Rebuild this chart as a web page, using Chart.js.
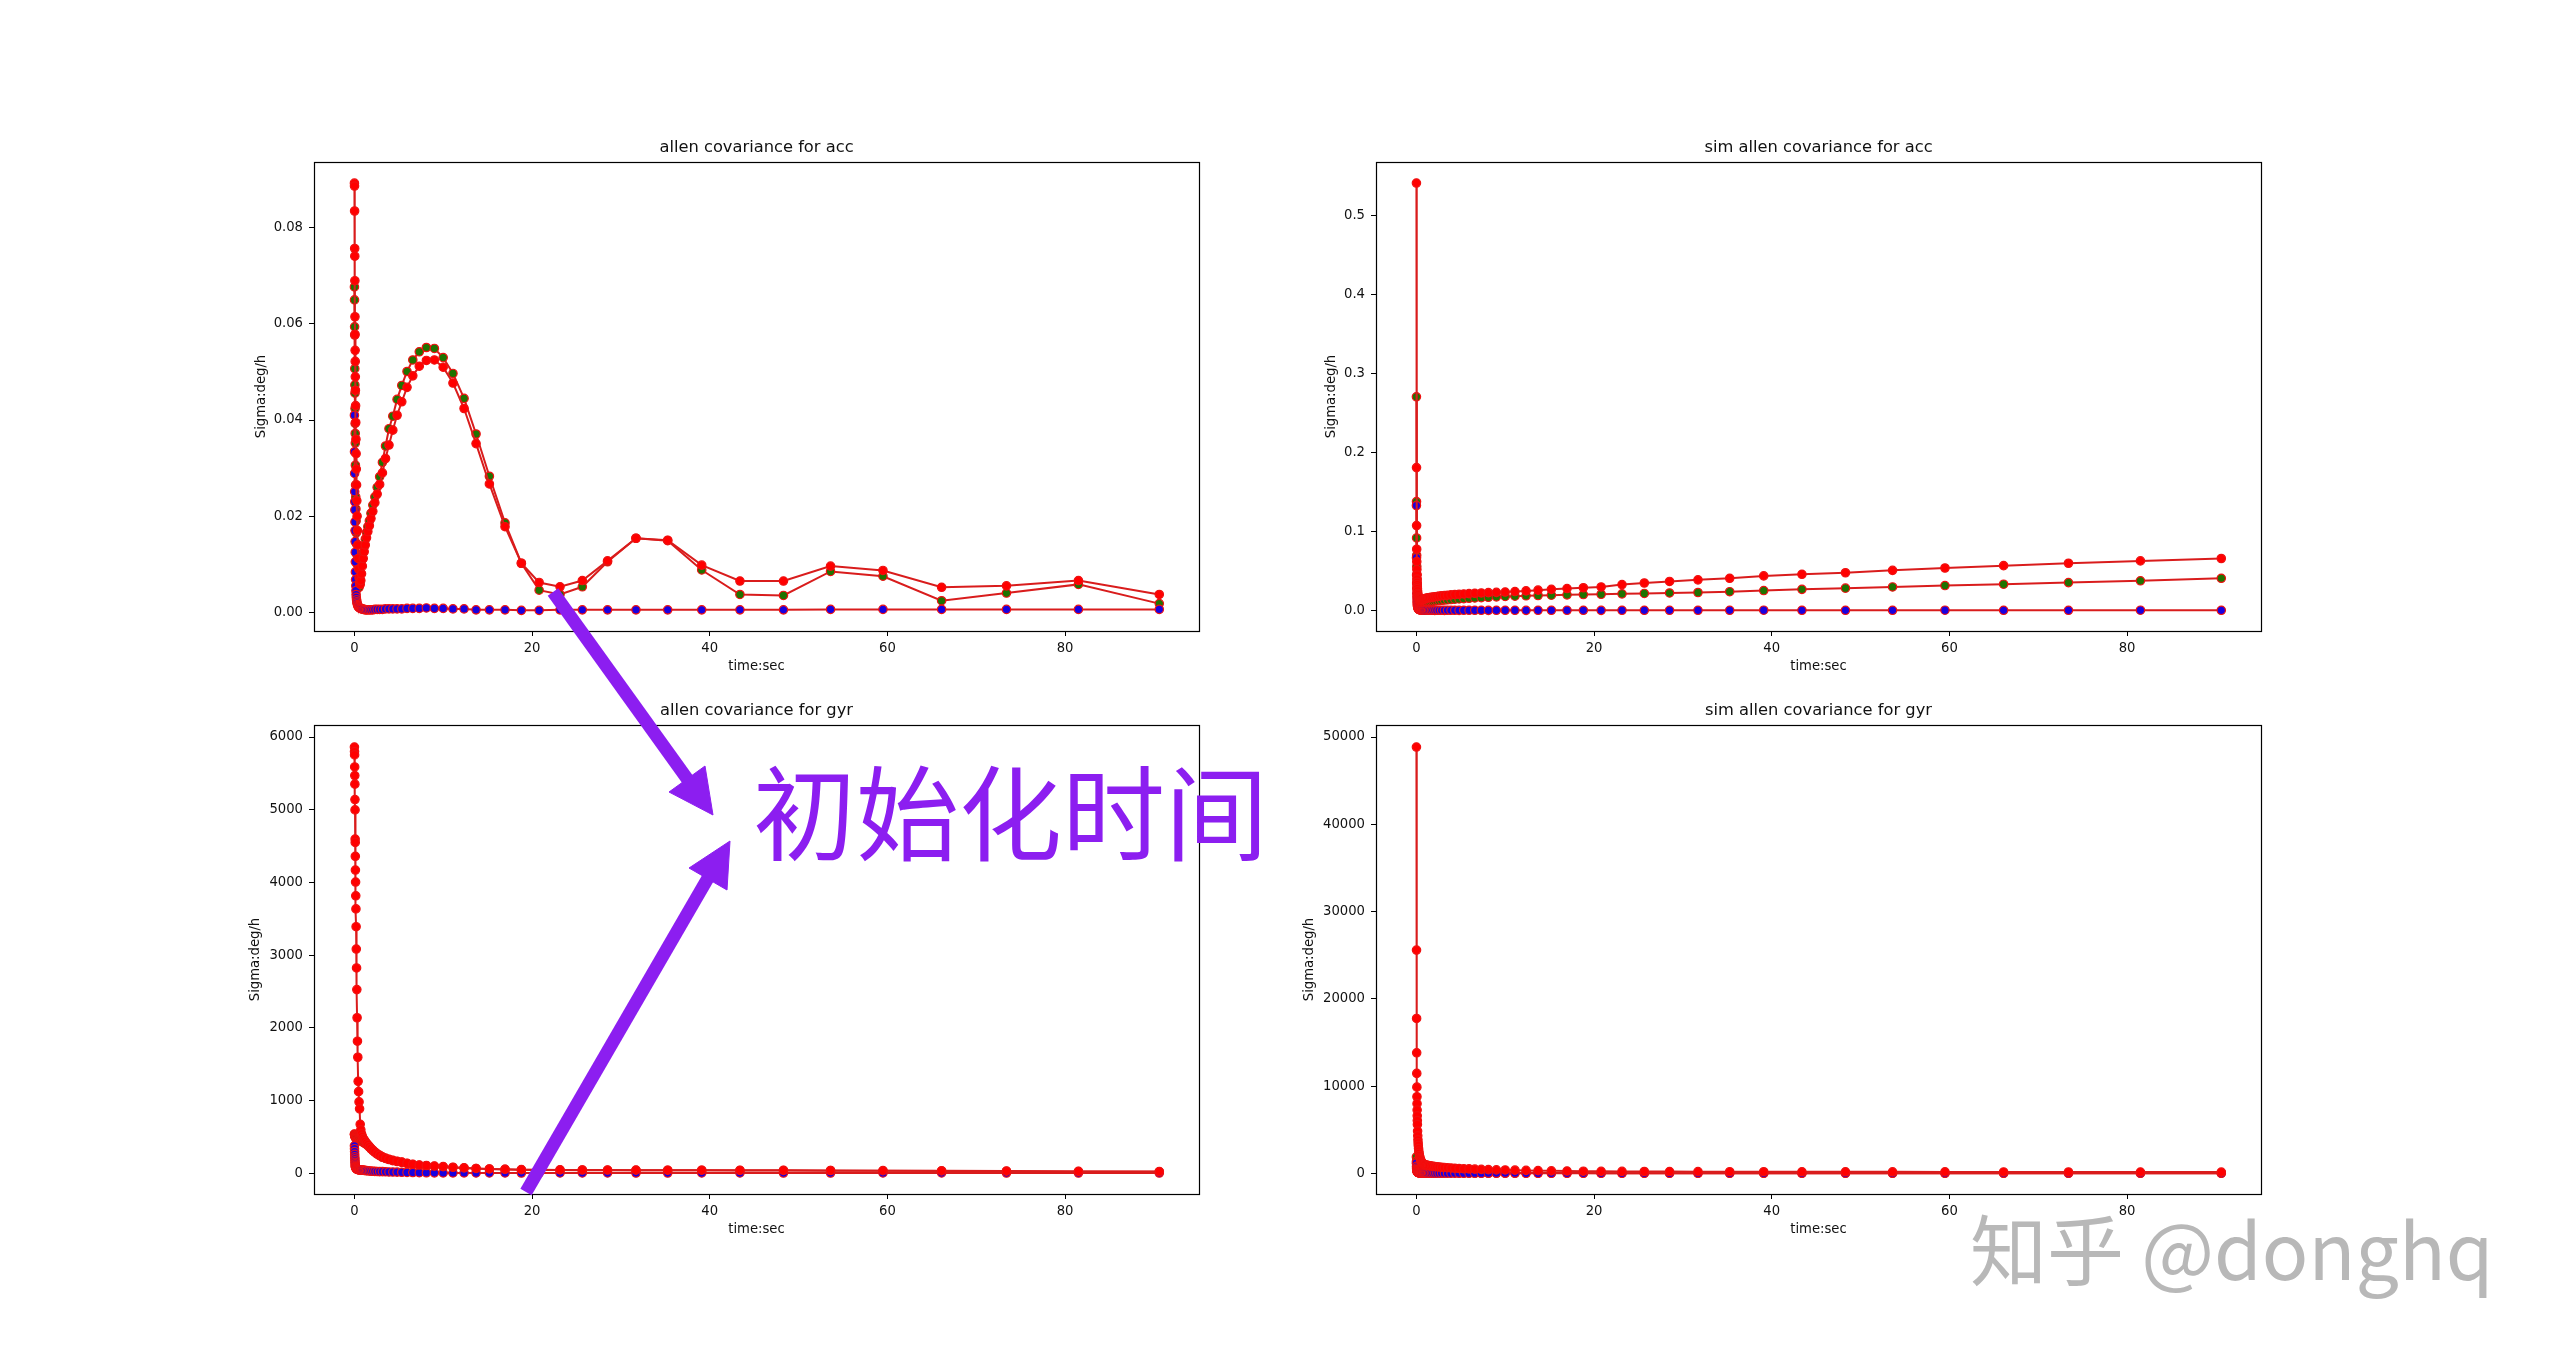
<!DOCTYPE html>
<html>
<head>
<meta charset="utf-8">
<script src="https://cdn.jsdelivr.net/npm/chart.js@4.4.1/dist/chart.umd.min.js"></script>
<style>
  html, body { margin: 0; background: #fff; }
  #page { position: relative; width: 2560px; height: 1365px; overflow: hidden; background: #fff; }
  #page canvas { position: absolute; }
  #arrows { position: absolute; left: 0; top: 0; }
  #note { position: absolute; left: 753px; top: 757px; font-family: "Noto Sans CJK SC"; font-size: 103px;
          line-height: 1; color: #8c1ef0; white-space: nowrap; }
  #mark { position: absolute; left: 1970px; top: 1208px; font-family: "Noto Sans CJK SC"; font-size: 77px;
          line-height: 1; color: #b8b8b8; white-space: nowrap; }
</style>
</head>
<body>
<div id="page">
  <canvas id="accChart" width="955" height="552" style="left:254px;top:122px"></canvas>
  <canvas id="simAccChart" width="947" height="552" style="left:1324px;top:122px"></canvas>
  <canvas id="gyrChart" width="961" height="552" style="left:248px;top:685px"></canvas>
  <canvas id="simGyrChart" width="969" height="552" style="left:1302px;top:685px"></canvas>

  <svg id="arrows" width="2560" height="1365">
    <g fill="#8c1ef0" stroke="#8c1ef0">
      <line x1="553" y1="592" x2="688" y2="780" stroke-width="13" />
      <polygon points="713,815 669,792 705,766" stroke-width="1" />
      <line x1="526" y1="1192" x2="708" y2="878" stroke-width="13" />
      <polygon points="730,841 727,890 689,868" stroke-width="1" />
    </g>
  </svg>
  <div id="note">初始化时间</div>
  <div id="mark">知乎 @donghq</div>
</div>

<script>
// averaging time (s), shared by all four panels
const T = [0.01, 0.02, 0.03, 0.04, 0.05, 0.06, 0.07, 0.08, 0.09, 0.10, 0.11, 0.12, 0.14, 0.16, 0.18,
  0.20, 0.22, 0.25, 0.28, 0.31, 0.35, 0.39, 0.43, 0.48, 0.53, 0.59, 0.66, 0.73, 0.81, 0.90,
  1.00, 1.11, 1.23, 1.37, 1.52, 1.69, 1.87, 2.08, 2.31, 2.57, 2.85, 3.16, 3.51, 3.90, 4.33,
  4.81, 5.34, 5.93, 6.58, 7.31, 8.11, 9.01,
  10.0, 11.1, 12.35, 13.7, 15.2, 16.96, 18.8, 20.8, 23.15, 25.66, 28.5, 31.7, 35.27, 39.1,
  43.4, 48.3, 53.6, 59.5, 66.1, 73.4, 81.5, 90.6];

// allen covariance for acc
const accRed = [0.0893, 0.0887, 0.0835, 0.0757, 0.0741, 0.0690, 0.0615, 0.0578, 0.0545, 0.0522,
  0.0490, 0.0462, 0.0430, 0.0395, 0.0360, 0.0330, 0.0298, 0.0265, 0.0232, 0.0200,
  0.0170, 0.0140, 0.0112, 0.0090, 0.0072, 0.0060, 0.0058, 0.0066, 0.0080, 0.0096,
  0.0112, 0.0126, 0.0140, 0.0155, 0.0168, 0.0180, 0.0195, 0.0210, 0.0228, 0.0246,
  0.0266, 0.0290, 0.0320, 0.0348, 0.0379, 0.0410, 0.0438, 0.0468, 0.0492, 0.0512, 0.0524, 0.0525,
  0.0510, 0.0477, 0.0424, 0.0351, 0.0267, 0.0178, 0.0102, 0.0062, 0.0053, 0.0066,
  0.0107, 0.0154, 0.0150, 0.0098, 0.0065, 0.0065, 0.0096, 0.0087, 0.0052, 0.0055, 0.0066, 0.0037];
const accGreen = [0.0677, 0.0650, 0.0594, 0.0577, 0.0507, 0.0473, 0.0456, 0.0424, 0.0393, 0.0372,
  0.0352, 0.0306, 0.0265, 0.0240, 0.0215, 0.0190, 0.0165, 0.0142, 0.0120, 0.0100,
  0.0082, 0.0068, 0.0058, 0.0052, 0.0052, 0.0058, 0.0068, 0.0082, 0.0098, 0.0110,
  0.0124, 0.0137, 0.0152, 0.0166, 0.0178, 0.0190, 0.0206, 0.0223, 0.0240, 0.0260,
  0.0282, 0.0312, 0.0346, 0.0382, 0.0408, 0.0443, 0.0472, 0.0501, 0.0525, 0.0542, 0.0551, 0.0549,
  0.0530, 0.0497, 0.0445, 0.0371, 0.0283, 0.0186, 0.0102, 0.0046, 0.0037, 0.0053,
  0.0105, 0.0154, 0.0149, 0.0088, 0.0037, 0.0035, 0.0085, 0.0075, 0.0024, 0.0040, 0.0058, 0.0018];
const accBlue = [0.0410, 0.0334, 0.0289, 0.0251, 0.0230, 0.0213, 0.0188, 0.0170, 0.0147, 0.0125,
  0.0105, 0.0084, 0.0068, 0.0055, 0.0045, 0.0037, 0.0031, 0.0026, 0.0022, 0.0019,
  0.0016, 0.0014, 0.0012, 0.0011, 0.0010, 0.0009, 0.0008, 0.0008, 0.0007, 0.0007,
  0.0006, 0.0006, 0.0005, 0.0005, 0.0005, 0.0005, 0.0005, 0.0005, 0.0006, 0.0006,
  0.0006, 0.0006, 0.0007, 0.0007, 0.0007, 0.0007, 0.0007, 0.0008, 0.0008, 0.0008, 0.0009, 0.0008,
  0.0008, 0.0007, 0.0007, 0.0005, 0.0005, 0.0005, 0.0004, 0.0004, 0.0005, 0.0005,
  0.0005, 0.0005, 0.0005, 0.0005, 0.0005, 0.0005, 0.0006, 0.0006, 0.0006, 0.0006, 0.0006, 0.0006];

// sim allen covariance for acc
const simAccRed = [0.541, 0.181, 0.1077, 0.0777, 0.062, 0.052, 0.045, 0.040, 0.036, 0.033,
  0.030, 0.028, 0.025, 0.022, 0.020, 0.018, 0.017, 0.016, 0.015, 0.014,
  0.0135, 0.013, 0.0128, 0.0127, 0.0128, 0.013, 0.0134, 0.0139, 0.0144, 0.015,
  0.0155, 0.0158, 0.0160, 0.0163, 0.0166, 0.0169, 0.0172, 0.0176, 0.0180, 0.0184,
  0.0188, 0.0192, 0.0196, 0.0200, 0.0204, 0.0208, 0.0212, 0.0216, 0.0220, 0.0224, 0.0228, 0.0232,
  0.0236, 0.0242, 0.0250, 0.0260, 0.0270, 0.0280, 0.0290, 0.0300, 0.0330, 0.0350,
  0.0370, 0.0390, 0.0410, 0.0440, 0.0460, 0.0480, 0.0510, 0.0540, 0.0570, 0.0600, 0.0630, 0.0660];
const simAccGreen = [0.2706, 0.138, 0.092, 0.070, 0.056, 0.046, 0.040, 0.034, 0.030, 0.026,
  0.023, 0.020, 0.017, 0.015, 0.013, 0.012, 0.011, 0.010, 0.0095, 0.0090,
  0.0088, 0.0087, 0.0087, 0.0088, 0.0090, 0.0093, 0.0096, 0.0099, 0.0102, 0.0105,
  0.0108, 0.0110, 0.0112, 0.0114, 0.0116, 0.0118, 0.0120, 0.0123, 0.0126, 0.0129,
  0.0132, 0.0135, 0.0138, 0.0141, 0.0145, 0.0149, 0.0153, 0.0157, 0.0161, 0.0165, 0.0170, 0.0175,
  0.0180, 0.0184, 0.0188, 0.0192, 0.0196, 0.0200, 0.0204, 0.0208, 0.0213, 0.0218,
  0.0224, 0.0230, 0.0240, 0.0255, 0.0270, 0.0285, 0.0300, 0.0318, 0.0335, 0.0355, 0.0378, 0.0410];
const simAccBlue = [0.133, 0.067, 0.045, 0.035, 0.028, 0.022, 0.018, 0.015, 0.012, 0.010,
  0.008, 0.0065, 0.0052, 0.0042, 0.0035, 0.0030, 0.0025, 0.0021, 0.0018, 0.0016,
  0.0014, 0.0012, 0.0011, 0.0010, 0.0009, 0.0008, 0.0008, 0.0007, 0.0007, 0.0006,
  0.0006, 0.0006, 0.0006, 0.0005, 0.0005, 0.0005, 0.0005, 0.0004, 0.0005, 0.0005,
  0.0005, 0.0004, 0.0005, 0.0005, 0.0005, 0.0004, 0.0005, 0.0005, 0.0005, 0.0005, 0.0004, 0.0005,
  0.0005, 0.0005, 0.0004, 0.0005, 0.0005, 0.0005, 0.0005, 0.0004, 0.0005, 0.0005,
  0.0005, 0.0005, 0.0005, 0.0006, 0.0005, 0.0005, 0.0005, 0.0006, 0.0005, 0.0005, 0.0006, 0.0005];

// allen covariance for gyr
const gyrRed = [5862, 5800, 5754, 5588, 5470, 5352, 5140, 4998, 4597, 4550,
  4360, 4171, 4006, 3817, 3637, 3392, 3085, 2825, 2527, 2140,
  1818, 1597, 1266, 1124, 983, 888, 675, 600, 545, 510,
  480, 460, 440, 416, 395, 370, 345, 321, 295, 270,
  250, 227, 210, 195, 180, 168, 156, 140, 125, 115, 109, 100,
  94, 85, 76, 68, 61, 57, 52, 50, 48, 47,
  46, 45, 44, 44, 43, 42, 40, 38, 35, 32, 28, 25];
const gyrGreen = [540, 538, 531, 529, 522, 519, 517, 511, 508, 503,
  501, 496, 495, 489, 487, 484, 480, 479, 474, 472,
  469, 466, 463, 460, 458, 454, 452, 448, 446, 441,
  428, 420, 410, 398, 382, 362, 338, 314, 290, 266,
  245, 222, 206, 191, 176, 164, 152, 137, 122, 112, 106, 97,
  91, 82, 74, 66, 59, 55, 50, 48, 46, 45,
  44, 43, 42, 42, 41, 40, 38, 36, 33, 30, 26, 23];
const gyrBlue = [380, 340, 300, 262, 227, 200, 175, 152, 132, 115,
  100, 92, 85, 79, 74, 70, 66, 63, 60, 58,
  56, 54, 52, 51, 50, 49, 48, 47, 46, 46,
  45, 42, 40, 38, 36, 34, 32, 30, 28, 26,
  25, 24, 22, 20, 19, 18, 16, 14, 12, 10, 9, 8,
  7, 7, 7, 6, 6, 6, 5, 5, 6, 6,
  6, 5, 5, 6, 6, 5, 5, 6, 6, 5, 5, 5];

// sim allen covariance for gyr
const simGyrRed = [48858, 25590, 17756, 13819, 11457, 9882, 8780, 7992, 7250, 6600,
  6050, 5600, 4850, 4300, 3850, 3500, 3200, 2850, 2550, 2300,
  2050, 1850, 1700, 1550, 1420, 1300, 1200, 1120, 1060, 1010,
  980, 950, 925, 905, 880, 850, 820, 790, 760, 730,
  709, 680, 650, 620, 590, 560, 530, 512, 490, 460, 430, 400,
  394, 370, 345, 315, 290, 270, 250, 236, 225, 215,
  208, 200, 195, 190, 185, 180, 175, 170, 165, 160, 155, 150];
const simGyrGreen = [1890, 1400, 1150, 980, 860, 770, 700, 640, 590, 550,
  515, 485, 440, 400, 370, 345, 320, 295, 270, 250,
  232, 215, 200, 188, 176, 165, 155, 146, 138, 130,
  124, 118, 112, 106, 100, 95, 90, 85, 80, 76,
  72, 68, 64, 60, 57, 54, 51, 48, 46, 44, 42, 40,
  38, 36, 35, 34, 33, 32, 31, 30, 29, 28,
  28, 27, 26, 26, 25, 25, 24, 24, 23, 23, 22, 22];
const simGyrBlue = [1200, 800, 600, 480, 400, 340, 300, 265, 235, 210,
  190, 175, 150, 130, 115, 103, 93, 84, 76, 70,
  64, 58, 54, 50, 47, 44, 41, 39, 37, 35,
  33, 31, 30, 29, 28, 27, 26, 25, 24, 23,
  22, 21, 20, 19, 18, 17, 16, 16, 15, 15, 14, 14,
  13, 13, 12, 12, 12, 11, 11, 11, 10, 10,
  10, 10, 10, 10, 10, 10, 10, 10, 10, 10, 10, 10];

// axes
const xRange = [-4.54, 95.07];
const xTicks = [0, 20, 40, 60, 80];
const xLabels = ['0', '20', '40', '60', '80'];

const accRange = [-0.0039, 0.0937];
const accTicks = [0, 0.02, 0.04, 0.06, 0.08];
const accLabels = ['0.00', '0.02', '0.04', '0.06', '0.08'];

const simAccRange = [-0.0257, 0.5676];
const simAccTicks = [0, 0.1, 0.2, 0.3, 0.4, 0.5];
const simAccLabels = ['0.0', '0.1', '0.2', '0.3', '0.4', '0.5'];

const gyrRange = [-283, 6165];
const gyrTicks = [0, 1000, 2000, 3000, 4000, 5000, 6000];
const gyrLabels = ['0', '1000', '2000', '3000', '4000', '5000', '6000'];

const simGyrRange = [-2362, 51382];
const simGyrTicks = [0, 10000, 20000, 30000, 40000, 50000];
const simGyrLabels = ['0', '10000', '20000', '30000', '40000', '50000'];

const FONT = 'DejaVu Sans';
const INK = '#111';

Chart.defaults.font.family = FONT;
Chart.defaults.color = INK;

// black box round the plot area, like matplotlib spines
const frame = {
  id: 'frame',
  afterDatasetsDraw(chart) {
    const a = chart.chartArea;
    const ctx = chart.ctx;
    ctx.save();
    ctx.strokeStyle = '#000';
    ctx.lineWidth = 1.2;
    ctx.strokeRect(Math.round(a.left) + 0.5, Math.round(a.top) + 0.5,
      Math.round(a.right - a.left), Math.round(a.bottom - a.top));
    ctx.restore();
  }
};

function series(ys, face) {
  return {
    data: T.map((t, i) => ({ x: t, y: ys[i] })),
    borderColor: '#d91c1c',
    borderWidth: 2,
    pointRadius: 4.2,
    pointBorderWidth: 1.2,
    pointBackgroundColor: face,
    pointBorderColor: '#f01010',
    tension: 0,
    fill: false
  };
}

function panel(id, title, red, green, blue, yRange, yTicks, yLabels, yWidth) {
  const ctx = document.getElementById(id);
  new Chart(ctx, {
    type: 'line',
    data: {
      // first dataset is painted last, so red ends on top
      datasets: [series(red, '#ff0000'), series(blue, '#1800e0'), series(green, '#1f7300')]
    },
    options: {
      responsive: false,
      animation: false,
      devicePixelRatio: 1,
      events: [],
      layout: { padding: { top: 17.2, right: 10, bottom: 0, left: 0 } },
      plugins: {
        legend: { display: false },
        tooltip: { enabled: false },
        title: {
          display: true,
          text: title,
          fullSize: false,
          color: INK,
          font: { family: FONT, size: 16.3, weight: 'normal', lineHeight: 1 },
          padding: { top: 0, bottom: 6.5 }
        }
      },
      scales: {
        x: {
          type: 'linear',
          min: xRange[0],
          max: xRange[1],
          afterBuildTicks: s => { s.ticks = xTicks.map(v => ({ value: v })); },
          afterFit: s => { s.height = 43; },
          ticks: {
            callback: (v, i) => xLabels[i],
            font: { family: FONT, size: 13.2 },
            color: INK,
            padding: 5,
            maxRotation: 0
          },
          grid: { drawOnChartArea: false, tickLength: 5, color: '#000', lineWidth: 1 },
          border: { display: false },
          title: {
            display: true,
            text: 'time:sec',
            color: INK,
            font: { family: FONT, size: 13.2, lineHeight: 1.2 },
            padding: 0
          }
        },
        y: {
          type: 'linear',
          min: yRange[0],
          max: yRange[1],
          afterBuildTicks: s => { s.ticks = yTicks.map(v => ({ value: v })); },
          afterFit: s => { s.width = yWidth; },
          ticks: {
            callback: (v, i) => yLabels[i],
            font: { family: FONT, size: 13.2 },
            color: INK,
            padding: 6
          },
          grid: { drawOnChartArea: false, tickLength: 5, color: '#000', lineWidth: 1 },
          border: { display: false },
          title: {
            display: true,
            text: 'Sigma:deg/h',
            color: INK,
            font: { family: FONT, size: 13.2, lineHeight: 1.2 },
            padding: 0
          }
        }
      }
    },
    plugins: [frame]
  });
}

panel('accChart', 'allen covariance for acc', accRed, accGreen, accBlue,
  accRange, accTicks, accLabels, 60);
panel('simAccChart', 'sim allen covariance for acc', simAccRed, simAccGreen, simAccBlue,
  simAccRange, simAccTicks, simAccLabels, 52);
panel('gyrChart', 'allen covariance for gyr', gyrRed, gyrGreen, gyrBlue,
  gyrRange, gyrTicks, gyrLabels, 66);
panel('simGyrChart', 'sim allen covariance for gyr', simGyrRed, simGyrGreen, simGyrBlue,
  simGyrRange, simGyrTicks, simGyrLabels, 74);
</script>
</body>
</html>
